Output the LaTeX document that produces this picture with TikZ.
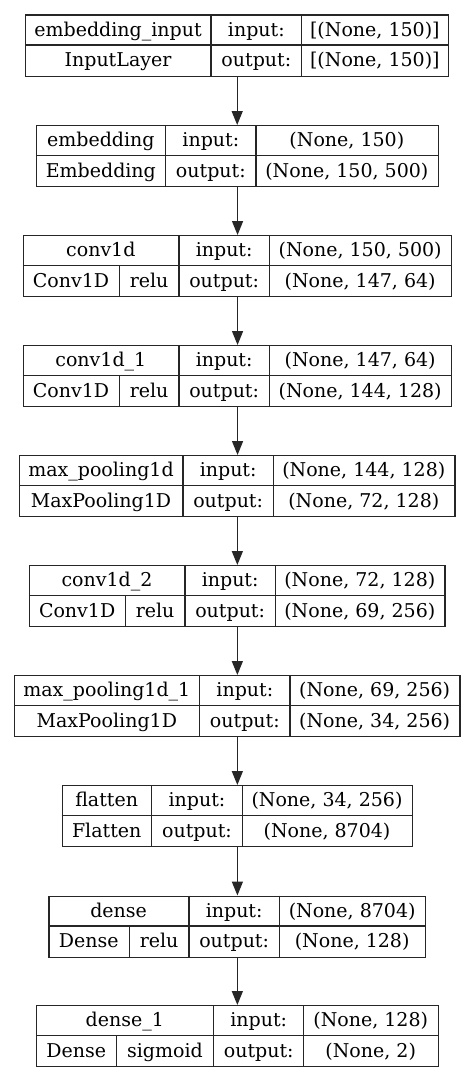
\documentclass[tikz,border=0pt]{standalone}
\usepackage{fontspec}
\setmainfont{DejaVu Serif}
\usetikzlibrary{arrows.meta}
\definecolor{linec}{HTML}{262626}
\newcommand\lyr[9]{%
  \def\lL{#2}\def\lR{#3}\def\lT{#4}\def\lA{#5}\def\lB{#6}%
  \node[box, minimum width={#3-#2}, anchor=north west] (#1) at (#2,#4) {};
  \draw[ln] (#2,#4+30.5) -- (#3,#4+30.5);
  \draw[ln] (#5,#4) -- (#5,#4+61);
  \draw[ln] (#6,#4) -- (#6,#4+61);
  \node[txt] at ({(#2+#5)/2},#4+21.6) {#7};
  \node[txt] at ({(#5+#6)/2},#4+21.6) {input:};
  \node[txt] at ({(#6+#3)/2},#4+21.6) {#8};
  \node[txt] at ({(#5+#6)/2},#4+52.1) {output:};
  \node[txt] at ({(#6+#3)/2},#4+52.1) {#9};
}
\newcommand\lowone[1]{\node[txt] at ({(\lL+\lA)/2},\lT+52.1) {#1};}
\newcommand\lowtwo[3]{%
  \draw[ln] (#1,\lT+30.5) -- (#1,\lT+61);
  \node[txt] at ({(\lL+#1)/2},\lT+52.1) {#2};
  \node[txt] at ({(#1+\lA)/2},\lT+52.1) {#3};}
\begin{document}
\begin{tikzpicture}[x=1pt,y=-1pt,
  box/.style={draw=linec, line width=1.4pt, inner sep=0pt, minimum height=61pt},
  ln/.style={draw=linec, line width=1.4pt},
  txt/.style={inner sep=0pt, anchor=base, text=black, font=\fontsize{19}{20}\selectfont},
  arr/.style={draw=linec, line width=1.4pt, -{Triangle[length=14pt,width=11pt]}}]
\useasboundingbox[fill=white] (0,0) rectangle (474,1081);
\lyr{b1}{25}{448}{14.5}{211}{301.7}{embedding\_input}{[(None, 150)]}{[(None, 150)]}
\lowone{InputLayer}
\lyr{b2}{36}{437.7}{125}{165.7}{256}{embedding}{(None, 150)}{(None, 150, 500)}
\lowone{Embedding}
\lyr{b3}{22.7}{451}{235}{179}{269.3}{conv1d}{(None, 150, 500)}{(None, 147, 64)}
\lowtwo{119.3}{Conv1D}{relu}
\lyr{b4}{22.7}{451}{345}{179}{269.3}{conv1d\_1}{(None, 147, 64)}{(None, 144, 128)}
\lowtwo{119.3}{Conv1D}{relu}
\lyr{b5}{19}{454.3}{455}{183}{273.3}{max\_pooling1d}{(None, 144, 128)}{(None, 72, 128)}
\lowone{MaxPooling1D}
\lyr{b6}{29}{444.3}{565}{185}{275.3}{conv1d\_2}{(None, 72, 128)}{(None, 69, 256)}
\lowtwo{125.3}{Conv1D}{relu}
\lyr{b7}{14}{459.3}{675}{199.7}{290}{max\_pooling1d\_1}{(None, 69, 256)}{(None, 34, 256)}
\lowone{MaxPooling1D}
\lyr{b8}{61.7}{411.7}{785}{151.7}{242.3}{flatten}{(None, 34, 256)}{(None, 8704)}
\lowone{Flatten}
\lyr{b9}{48.3}{425}{895.5}{189}{279.3}{dense}{(None, 8704)}{(None, 128)}
\lowtwo{129.3}{Dense}{relu}
\lyr{b10}{36}{437.7}{1005}{213.7}{303.7}{dense\_1}{(None, 128)}{(None, 2)}
\lowtwo{116.3}{Dense}{sigmoid}
\foreach \a/\b in {b1/b2,b2/b3,b3/b4,b4/b5,b5/b6,b6/b7,b7/b8,b8/b9,b9/b10}
  \draw[arr] (\a.south) -- (\a.south |- \b.north);
\end{tikzpicture}
\end{document}
